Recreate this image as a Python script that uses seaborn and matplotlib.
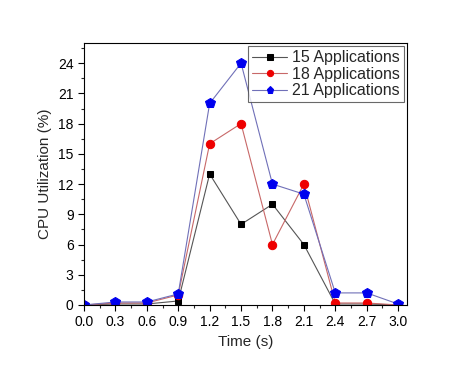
import matplotlib
matplotlib.use('Agg')
import matplotlib.pyplot as plt
import pandas as pd
import seaborn as sns
from matplotlib.ticker import MultipleLocator

time_s = [0.0, 0.3, 0.6, 0.9, 1.2, 1.5, 1.8, 2.1, 2.4, 2.7, 3.0]
apps_15 = [0, 0.1, 0.1, 0.4, 13, 8, 10, 6, 0.1, 0.1, 0]
apps_18 = [0, 0.2, 0.2, 1.0, 16, 18, 6, 12, 0.2, 0.2, 0]
apps_21 = [0, 0.3, 0.3, 1.1, 20, 24, 12, 11, 1.2, 1.2, 0.1]

labels = ['15 Applications', '18 Applications', '21 Applications']
series = [apps_15, apps_18, apps_21]

df = pd.concat([pd.DataFrame({'Time': time_s, 'CPU': vals, 'Series': lab})
                for lab, vals in zip(labels, series)], ignore_index=True)

sns.set_style('ticks')
plt.rcParams['font.family'] = ['Liberation Sans', 'DejaVu Sans']

fig = plt.figure(figsize=(4.74, 3.66), dpi=100)
ax = fig.add_axes([84 / 474, 1 - 305 / 366, (407 - 84) / 474, (305 - 43) / 366])

line_colors = ['#555555', '#c86868', '#7070b8']
marker_colors = ['#000000', '#ee0000', '#0000ee']
markers = ['s', 'o', 'p']
sizes = [5, 6, 7]

for lab, lc, mc, mk, ms in zip(labels, line_colors, marker_colors, markers, sizes):
    sub = df[df['Series'] == lab]
    sns.lineplot(data=sub, x='Time', y='CPU', ax=ax, color=lc, linewidth=0.8,
                 marker=mk, markersize=ms, markerfacecolor=mc,
                 markeredgecolor=mc, label=lab)

ax.set_xlim(0, 3.085)
ax.set_ylim(0, 26)
ax.set_xticks(time_s)
ax.set_xticklabels(['%.1f' % t for t in time_s])
ax.set_yticks(range(0, 25, 3))
ax.xaxis.set_minor_locator(MultipleLocator(0.15))
ax.yaxis.set_minor_locator(MultipleLocator(1.5))
ax.tick_params(axis='both', which='major', length=4, width=0.8, labelsize=10,
               colors='black', direction='out')
ax.tick_params(axis='both', which='minor', length=2, width=0.8, direction='out')
for s in ax.spines.values():
    s.set_color('black')
    s.set_linewidth(0.8)
ax.set_xlabel('Time (s)', fontsize=11)
ax.set_ylabel('CPU Utilization (%)', fontsize=11)

leg = ax.legend(loc='upper right', fontsize=11.5, frameon=True, fancybox=False,
                edgecolor='#444444', borderaxespad=0.2, handlelength=2.2,
                borderpad=0.25, labelspacing=0.1, handletextpad=0.3,
                markerscale=0.75)
leg.get_frame().set_linewidth(0.8)

fig.savefig('out.png', dpi=100)
